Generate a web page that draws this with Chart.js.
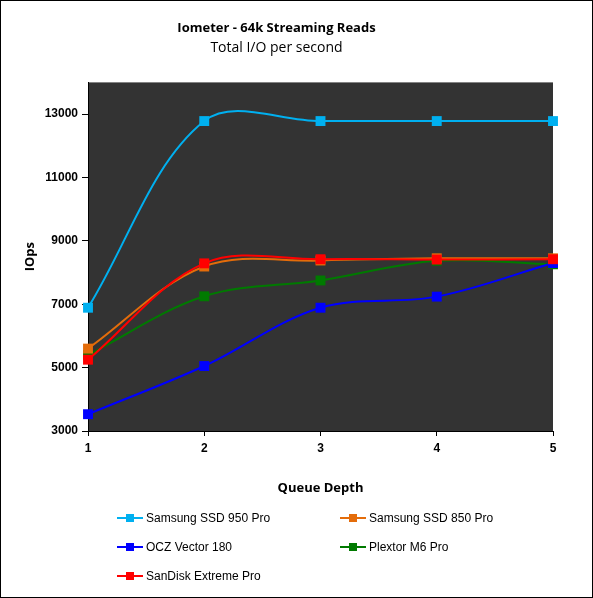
<!DOCTYPE html>
<html>
<head>
<meta charset="utf-8">
<script src="https://cdn.jsdelivr.net/npm/chart.js@4"></script>
<style>
  html, body { margin: 0; padding: 0; background: #fff; }
  #wrap { width: 593px; height: 598px; }
</style>
</head>
<body>
<div id="wrap"><canvas id="chart"></canvas></div>
<script>
// ===== DATA =====
const queueDepths = ['1', '2', '3', '4', '5'];
const yTicks = [3000, 5000, 7000, 9000, 11000, 13000];

const samsung950 = [6890, 12780, 12780, 12780, 12780];
const samsung850 = [5600, 8190, 8380, 8450, 8450];
const ocz180 = [3530, 5050, 6890, 7240, 8300];
const plextorM6 = [5400, 7250, 7750, 8370, 8260];
const sandiskExtreme = [5250, 8290, 8420, 8410, 8420];

function series(label, data, color, order) {
    return {
        label, data, order,
        borderColor: color,
        backgroundColor: color,
        borderWidth: 2,
        pointStyle: 'rect',
        pointRadius: 7,
        pointHoverRadius: 7,
        pointBorderWidth: 0,
        tension: 0.35,
        clip: false
    };
}

// ===== PLUGINS =====
const frame = {
    id: 'frame',
    beforeDraw(chart) {
        const { ctx, chartArea: a } = chart;
        ctx.save();
        ctx.fillStyle = '#333333';
        ctx.fillRect(a.left, a.top, a.right - a.left, a.bottom - a.top);
        ctx.restore();
    },
    afterDraw(chart) {
        const ctx = chart.ctx;
        ctx.save();
        ctx.strokeStyle = '#000';
        ctx.lineWidth = 1;
        ctx.strokeRect(0.5, 0.5, chart.width - 1, chart.height - 1);
        ctx.restore();
    }
};

// two column legend like the original
const gridLegend = {
    id: 'gridLegend',
    afterDraw(chart) {
        const ctx = chart.ctx;
        const cols = [117, 340];
        const rows = [518, 547, 576];
        ctx.save();
        ctx.font = '12px "Liberation Sans", Arial, sans-serif';
        ctx.textBaseline = 'middle';
        chart.data.datasets.forEach((ds, i) => {
            const x = cols[i % 2];
            const y = rows[Math.floor(i / 2)];
            ctx.strokeStyle = ds.borderColor;
            ctx.lineWidth = 2;
            ctx.beginPath();
            ctx.moveTo(x, y);
            ctx.lineTo(x + 26, y);
            ctx.stroke();
            ctx.fillStyle = ds.borderColor;
            ctx.fillRect(x + 9, y - 4, 8, 8);
            ctx.fillStyle = '#000';
            ctx.fillText(ds.label, x + 29, y + 1);
        });
        ctx.restore();
    }
};

// ===== CHART =====
new Chart(document.getElementById('chart'), {
    type: 'line',
    data: {
        labels: queueDepths,
        datasets: [
            series('Samsung SSD 950 Pro', samsung950, '#00B0F0', 1),
            series('Samsung SSD 850 Pro', samsung850, '#E46C0A', 2),
            series('OCZ Vector 180', ocz180, '#0000FF', 3),
            series('Plextor M6 Pro', plextorM6, '#007A00', 4),
            series('SanDisk Extreme Pro', sandiskExtreme, '#FF0000', 0)
        ]
    },
    options: {
        responsive: true,
        maintainAspectRatio: false,
        animation: false,
        layout: { padding: { left: 0, right: 40, top: 0, bottom: 98 } },
        plugins: {
            legend: { display: false },
            tooltip: { enabled: false },
            title: {
                display: true,
                text: 'Iometer - 64k Streaming Reads',
                color: '#000',
                font: { family: '"Open Sans", sans-serif', size: 13, weight: 'bold' },
                padding: { top: 20, bottom: 4 }
            },
            subtitle: {
                display: true,
                text: 'Total I/O per second',
                color: '#000',
                font: { family: '"Open Sans", sans-serif', size: 14 },
                padding: { top: 0, bottom: 26 }
            }
        },
        scales: {
            x: {
                offset: false,
                grid: { display: true, drawOnChartArea: false, color: '#000', tickLength: 5 },
                border: { color: '#000', width: 1 },
                ticks: {
                    color: '#000', padding: 5,
                    font: { family: '"Liberation Sans", Arial, sans-serif', size: 12, weight: 'bold' }
                },
                title: {
                    display: true, text: 'Queue Depth', color: '#000',
                    font: { family: '"Open Sans", sans-serif', size: 13, weight: 'bold' },
                    padding: { top: 0, bottom: 4 }
                },
                afterFit(scale) { scale.height = 69; }
            },
            y: {
                min: 3000,
                max: 14000,
                grid: { display: true, drawOnChartArea: false, color: '#000', tickLength: 6 },
                border: { color: '#000', width: 1 },
                afterBuildTicks(scale) { scale.ticks = yTicks.map(v => ({ value: v })); },
                ticks: {
                    color: '#000', padding: 4,
                    callback: v => String(v),
                    font: { family: '"Liberation Sans", Arial, sans-serif', size: 12, weight: 'bold' }
                },
                title: {
                    display: true, text: 'IOps', color: '#000',
                    font: { family: '"Open Sans", sans-serif', size: 13, weight: 'bold' },
                    padding: { top: 22, bottom: 0 }
                },
                afterFit(scale) { scale.width = 88; }
            }
        }
    },
    plugins: [frame, gridLegend]
});
</script>
</body>
</html>
